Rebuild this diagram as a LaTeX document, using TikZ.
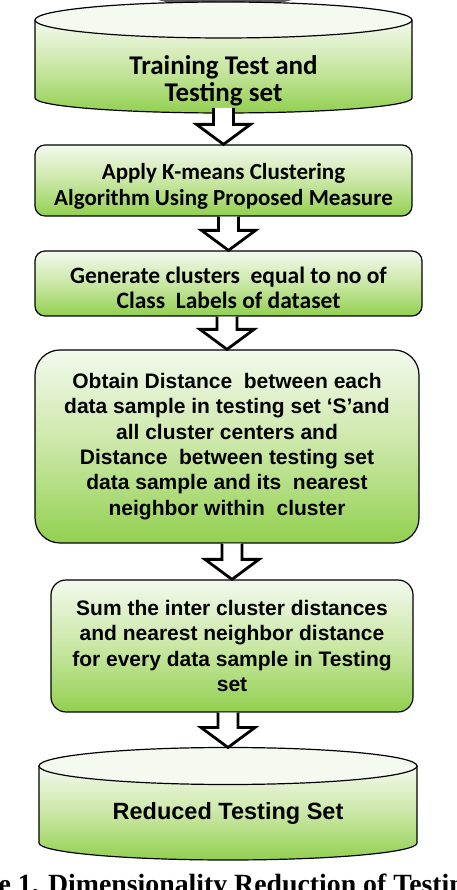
\documentclass[tikz,border=0pt]{standalone}
\usepackage{fontspec}
\setmainfont{Liberation Serif}
\newfontfamily\carlito{Carlito}
\newfontfamily\arialf{Liberation Sans}
\usetikzlibrary{calc}
\definecolor{gtop}{RGB}{243,249,237}
\definecolor{gmid}{RGB}{202,231,165}
\definecolor{gbot}{RGB}{146,208,80}
\definecolor{elfill}{RGB}{245,250,240}
\newcommand\blockarrow[2]{%
  \path[arrfill] let \p1=(#1.south -| #2.north), \p2=(#2.north) in
    (\x1-10pt,\y1) -- (\x1-10pt,\y2+20pt) -- (\x1-27pt,\y2+20pt) -- (\x2,\y2)
    -- (\x1+27pt,\y2+20pt) -- (\x1+10pt,\y2+20pt) -- (\x1+10pt,\y1) -- cycle;
  \path[arrline] let \p1=(#1.south -| #2.north), \p2=(#2.north) in
    (\x1-10pt,\y1) -- (\x1-10pt,\y2+20pt) -- (\x1-27pt,\y2+20pt) -- (\x2,\y2)
    -- (\x1+27pt,\y2+20pt) -- (\x1+10pt,\y2+20pt) -- (\x1+10pt,\y1);
}
\begin{document}
\begin{tikzpicture}[x=1pt,y=1pt,
  flowbox/.style={draw=black, line width=1.2pt, top color=gtop, bottom color=gbot,
    middle color=gmid, align=center, inner sep=0pt},
  calfont/.style={font=\carlito\bfseries\fontsize{23}{26}\selectfont},
  arlfont/.style={font=\arialf\bfseries\fontsize{21}{25.3}\selectfont},
  frame/.style={inner sep=0pt, outer sep=0pt},
  boxtext/.style={align=center, inner sep=0pt},
  cylbody/.style={top color=gtop, bottom color=gbot, middle color=gmid},
  cylline/.style={draw=black, line width=1.2pt},
  cyltop/.style={fill=elfill, draw=black, line width=1.2pt},
  arrfill/.style={fill=white},
  arrline/.style={draw=black, line width=2.8pt, line join=miter},
  captext/.style={font=\bfseries\fontsize{27.8}{32}\selectfont, inner sep=0pt, anchor=base west}
]
\useasboundingbox (0,0) rectangle (456,890);

% remnant at the top edge
\fill[black!65] (158,890) -- (292,890) -- (284,888) -- (166,888) -- cycle;

% top cylinder
\path[cylbody] (35,870) -- (35,792) arc[start angle=180, end angle=360, x radius=188.5, y radius=15] -- (412,870) -- cycle;
\draw[cylline] (35,870) -- (35,792) arc[start angle=180, end angle=360, x radius=188.5, y radius=15] -- (412,870);
\draw[cyltop] (223.5,870) ellipse [x radius=188.5, y radius=18];
\node[frame, minimum width=377pt, minimum height=106pt] (c1) at (223.5,835) {};
\node[boxtext, font=\carlito\bfseries\fontsize{27}{27}\selectfont] (c1t) at (223.5,809.5) {Training Test and\\Testing set};

% box 2
\node[flowbox, rounded corners=10pt, minimum width=377pt, minimum height=71pt] (b2) at (223.5,709.5) {};
\node[boxtext, calfont] (b2t) at ([yshift=-6pt]b2.center) {Apply K-means Clustering\\Algorithm Using Proposed Measure};

% box 3
\node[flowbox, rounded corners=10pt, minimum width=387pt, minimum height=65pt] (b3) at (228.5,606.5) {};
\node[boxtext, font=\carlito\bfseries\fontsize{23.5}{25}\selectfont] (b3t) at ([yshift=-4pt]b3.center)
  {Generate clusters\ \ equal to no of\\Class\ \ Labels of dataset};

% box 4
\node[flowbox, arlfont, rounded corners=25pt, minimum width=384pt, minimum height=193pt] (b4) at (227,443.5)
  {Obtain Distance\ \ between each\\data sample in testing set ‘S’and\\all cluster centers and\\Distance\ \ between testing set\\data sample and its\ \ nearest\\neighbor within\ \ cluster};

% box 5
\node[flowbox, arlfont, rounded corners=15pt, minimum width=362pt, minimum height=132pt] (b5) at (232,244)
  {Sum the inter cluster distances\\and nearest neighbor distance\\for every data sample in Testing\\set};

% bottom cylinder
\path[cylbody] (39,124) -- (39,47) arc[start angle=180, end angle=360, x radius=189, y radius=17] -- (417,124) -- cycle;
\draw[cylline] (39,124) -- (39,47) arc[start angle=180, end angle=360, x radius=189, y radius=17] -- (417,124);
\draw[cyltop] (228,124) ellipse [x radius=189, y radius=18.5];
\node[frame, minimum width=378pt, minimum height=112.5pt] (c2) at (228,86.25) {};
\node[boxtext, font=\arialf\bfseries\fontsize{23.5}{28}\selectfont] (c2t) at (228,77) {Reduced Testing Set};

% block arrows
\blockarrow{c1}{b2}
\blockarrow{b2}{b3}
\blockarrow{b3}{b4}
\blockarrow{b4}{b5}
\blockarrow{b5}{c2}

% caption (cut by the picture's edges, as in the reference)
\node[captext] (cap) at (-1.5,-3.5) {e 1. Dimensionality Reduction of Testin};
\end{tikzpicture}
\end{document}
